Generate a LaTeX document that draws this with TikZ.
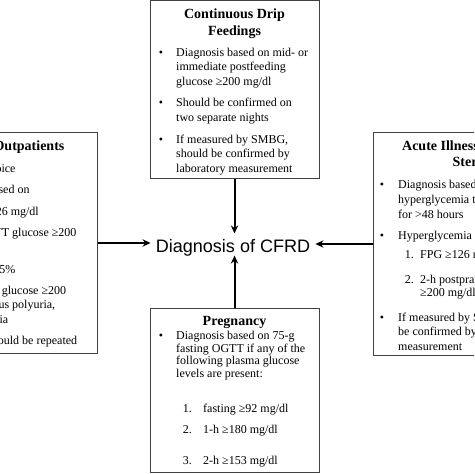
\documentclass[tikz,border=0pt]{standalone}
\usepackage{fontspec}
\setmainfont{Liberation Serif}
\newfontfamily\labelfont{Liberation Sans}
\usetikzlibrary{arrows.meta}

% stacked lines whose baseline is the first line
\newcommand{\leftlines}[1]{\begin{tabular}[t]{@{}l@{}}#1\end{tabular}}
\newcommand{\midlines}[1]{\begin{tabular}[t]{@{}c@{}}#1\end{tabular}}

\tikzset{
  panel/.style={draw=black!75, line width=0.3mm, rectangle, inner sep=0pt},
  head/.style={anchor=base, inner sep=0pt, font=\fontsize{11.95}{14.5}\selectfont\bfseries},
  para/.style={anchor=base west, inner sep=0pt, font=\fontsize{10.24}{12.3}\selectfont},
  dot/.style={anchor=base, inner sep=0pt, font=\fontsize{10.24}{12.3}\selectfont},
  feed/.style={-{Stealth[length=2.4mm, width=2.2mm]}, line width=0.6mm},
}

\begin{document}
\begin{tikzpicture}[x=0.3mm, y=-0.3mm]
  \clip (0,0) rectangle (474,474);

  % the four boxes
  \node[panel, minimum width=50.7mm, minimum height=53.4mm] (drip) at (234.5,90) {};
  \node[panel, minimum width=56.1mm, minimum height=66mm] (outpt) at (3.5,243) {};
  \node[panel, minimum width=62.4mm, minimum height=66.6mm] (acute) at (477,244) {};
  \node[panel, minimum width=50.7mm, minimum height=49.2mm] (preg) at (234.5,390) {};

  % centre
  \node[font=\labelfont\fontsize{15.4}{18}\selectfont, inner xsep=1.5mm, inner ysep=1mm,
        text height=4.5mm, text depth=0pt] (cfrd) at (233,244.5) {Diagnosis of CFRD};

  % continuous drip feedings
  \node[head] (drip-t) at (234.5,18.5) {\midlines{Continuous Drip\\Feedings}};
  \node[para] (drip-1) at (176,56.5) {\leftlines{Diagnosis based on mid- or\\immediate postfeeding\\glucose ≥200 mg/dl}};
  \node[para] (drip-2) at (176,107) {\leftlines{Should be confirmed on\\two separate nights}};
  \node[para] (drip-3) at (176,143.5) {\leftlines{If measured by SMBG,\\should be confirmed by\\laboratory measurement}};
  \foreach \y [count=\i] in {56.5,107,143.5}
    \node[dot, name=drip-b\i] at (161,\y) {•};

  % outpatients
  \node[head] (outpt-t) at (3.5,150.5) {Routine Outpatients};
  \node[para] (outpt-1) at (-64,172.5) {OGTT of choice};
  \node[para] (outpt-2) at (-64,193.5) {Diagnosis based on};
  \node[para] (outpt-3) at (-42,215.5) {FPG ≥126 mg/dl};
  \node[para, font=\fontsize{10.24}{12.8}\selectfont] (outpt-4) at (-42,236.5) {\leftlines{2-h OGTT glucose ≥200\\mg/dl}};
  \node[para] (outpt-5) at (-42,273.5) {A1C ≥6.5\%};
  \node[para] (outpt-6) at (-42,294.5) {\leftlines{Random glucose ≥200\\mg/dl plus polyuria,\\polydipsia}};
  \node[para] (outpt-7) at (-64,344.5) {Diagnosis should be repeated};
  \foreach \y [count=\i] in {172.5,193.5,344.5}
    \node[dot, name=outpt-b\i] at (-79,\y) {•};
  \foreach \y [count=\i] in {215.5,236.5,273.5,294.5}
    \node[para, anchor=base east, name=outpt-n\i] at (-48,\y) {\i.};

  % acute illness
  \node[head, font=\fontsize{11.95}{13.6}\selectfont\bfseries] (acute-t) at (477,150.5) {\midlines{Acute Illness or Systemic\\Steroids}};
  \node[para, font=\fontsize{10.24}{12.8}\selectfont] (acute-1) at (398,188.5) {\leftlines{Diagnosis based on persistent\\hyperglycemia that lasts\\for >48 hours}};
  \node[para] (acute-2) at (398,239.5) {Hyperglycemia defined as:};
  \node[para] (acute-3) at (420,258.5) {FPG ≥126 mg/dl};
  \node[para, font=\fontsize{10.24}{11.1}\selectfont] (acute-4) at (420,283.5) {\leftlines{2-h postprandial glucose\\≥200 mg/dl}};
  \node[para] (acute-5) at (398,321.5) {\leftlines{If measured by SMBG, should\\be confirmed by laboratory\\measurement}};
  \foreach \y [count=\i] in {188.5,239.5,321.5}
    \node[dot, name=acute-b\i] at (382,\y) {•};
  \foreach \y [count=\i] in {258.5,283.5}
    \node[para, anchor=base east, name=acute-n\i] at (414,\y) {\i.};

  % pregnancy
  \node[head] (preg-t) at (234.5,325.5) {Pregnancy};
  \node[para, font=\fontsize{10.24}{10.8}\selectfont] (preg-1) at (176,339.5) {\leftlines{Diagnosis based on 75-g\\fasting OGTT if any of the\\following plasma glucose\\levels are present:}};
  \node[dot] (preg-b1) at (161,339.5) {•};
  \node[para] (preg-2) at (203,412.5) {fasting ≥92 mg/dl};
  \node[para] (preg-3) at (203,433.5) {1-h ≥180 mg/dl};
  \node[para] (preg-4) at (203,464.5) {2-h ≥153 mg/dl};
  \foreach \y [count=\i] in {412.5,433.5,464.5}
    \node[para, anchor=base east, name=preg-n\i] at (192,\y) {\i.};

  % arrows into the diagnosis
  \draw[feed] (drip) -- (drip |- cfrd.north);
  \draw[feed] (preg) -- (preg |- cfrd.south);
  \draw[feed] (outpt) -- (outpt -| cfrd.west);
  \draw[feed] (acute) -- (acute -| cfrd.east);
\end{tikzpicture}
\end{document}
